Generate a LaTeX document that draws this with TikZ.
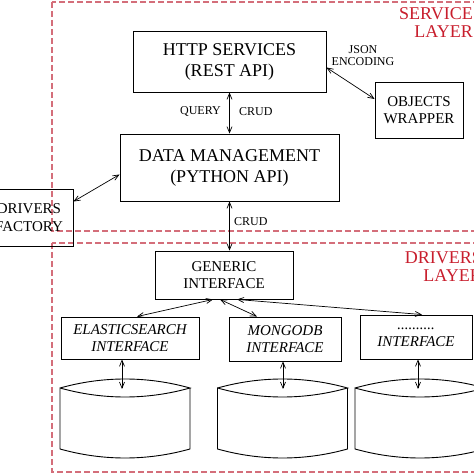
\documentclass[tikz,border=0pt]{standalone}
\usepackage{fontspec}
\setmainfont{Liberation Serif}
\usetikzlibrary{arrows.meta,positioning}
\definecolor{layerred}{RGB}{200,30,45}
\definecolor{layerdash}{RGB}{212,110,122}
\begin{document}
\begin{tikzpicture}[x=1pt,y=1pt,>={Straight Barb[length=6pt,width=5pt]}]

        	\tikzstyle{box} = [draw, line width=0.9pt, inner sep=0pt, align=center];
        	\tikzstyle{big} = [box, font=\fontsize{18}{21}\selectfont];
        	\tikzstyle{mid} = [box, font=\fontsize{15}{17.5}\selectfont];
        	\tikzstyle{small} = [inner sep=0pt, align=center, font=\fontsize{12}{12}\selectfont];
        	\tikzstyle{link} = [<->, line width=0.7pt];
        	\tikzstyle{layer} = [draw=layerdash, line width=1.2pt, dash pattern=on 6pt off 3pt];
        	\tikzstyle{layername} = [anchor=north east, inner sep=0pt, align=right, text=layerred, font=\fontsize{18}{18}\selectfont];

        	\useasboundingbox (0,0) rectangle (474,474);
        	\clip (0,0) rectangle (474,474);

        	% layers
        	\draw[layer] (52,472) rectangle (482,243);
        	\draw[layer] (52,231) rectangle (482,2);
        	\node[layername] (service) at (473,467) {SERVICE\\LAYER};
        	\node[layername] (driver) at (482,223) {DRIVERS\\LAYER};

        	\node[big, minimum width=193, minimum height=61] (http) at (229.5,412.5) {HTTP SERVICES\\(REST API)};
        	\node[big, minimum width=219, minimum height=67] (dm) at (229.5,306.5) {DATA MANAGEMENT\\(PYTHON API)};
        	\node[mid, minimum width=88, minimum height=56] (obj) at (419,364) {OBJECTS\\WRAPPER};
        	\node[mid, minimum width=88, minimum height=57] (df) at (29,256.5) {DRIVERS\\FACTORY};
        	\node[mid, minimum width=138, minimum height=48] (gen) at (224,199) {GENERIC\\INTERFACE};
        	\node[mid, minimum width=138, minimum height=42, font=\fontsize{15}{17}\selectfont\itshape] (es) at (130,136) {ELASTICSEARCH\\INTERFACE};
        	\node[mid, minimum width=112, minimum height=44, font=\fontsize{15}{17}\selectfont\itshape] (mdb) at (285,135) {MONGODB\\INTERFACE};
        	\node[mid, minimum width=112, minimum height=44, font=\fontsize{15}{17}\selectfont\itshape] (other) at (416,137) {..........\\INTERFACE};

        	% databases
        	\foreach \name/\cx/\ax in {esdb/125/122, mdbdb/282.5/283, otherdb/420/418} {
        		\draw[line width=0.9pt] (\cx-65,86) .. controls (\cx-22,98) and (\cx+22,98) .. (\cx+65,86)
        			.. controls (\cx+22,74) and (\cx-22,74) .. (\cx-65,86) -- (\cx-65,25)
        			.. controls (\cx-22,13) and (\cx+22,13) .. (\cx+65,25) -- (\cx+65,86);
        		\coordinate (\name) at (\ax,85);
        	}

        	\draw[link] (http.south) -- (dm.north);
        	\node[small, anchor=east] (query) at (221,362) {QUERY};
        	\node[small, anchor=west] (crudtop) at (239,362) {CRUD};
        	\draw[link] ([yshift=-6]http.east) -- ([yshift=11]obj.west);
        	\node[small] (json) at (363,418) {JSON\\ENCODING};
        	\draw[link] ([yshift=-7]dm.west) -- ([yshift=16]df.east);
        	\draw[link] (dm.south) -- (dm.south |- gen.north);
        	\node[small, anchor=west] (crudlow) at (234,252) {CRUD};

        	\draw[link] ([xshift=-11]gen.south) -- ([xshift=7]es.north);
        	\draw[link] ([xshift=-4]gen.south) -- ([xshift=-28]mdb.north);
        	\draw[link] ([xshift=13]gen.south) -- ([xshift=6]other.north);
        	\draw[link] (es.south -| esdb) -- (esdb);
        	\draw[link] (mdb.south -| mdbdb) -- (mdbdb);
        	\draw[link] (other.south -| otherdb) -- (otherdb);

    	\end{tikzpicture}
\end{document}
